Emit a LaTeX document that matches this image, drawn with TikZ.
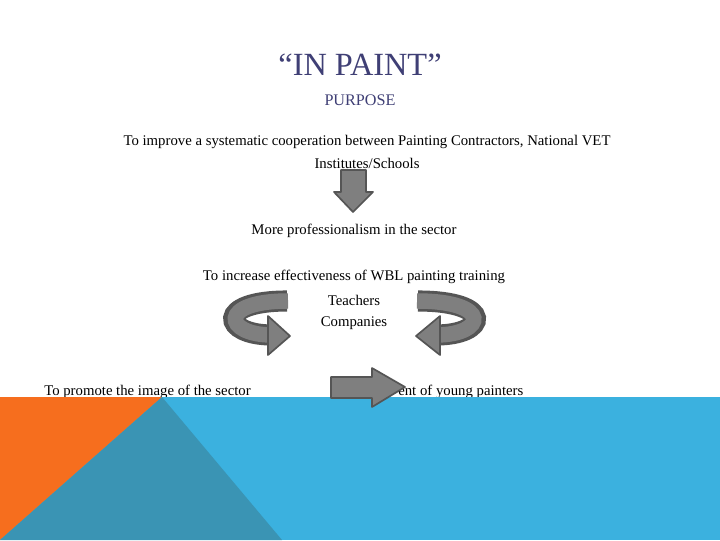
\documentclass[tikz,border=0pt]{standalone}
\usepackage{fontspec}
\setmainfont{Liberation Serif}
\begin{document}
\begin{tikzpicture}[x=0.025cm,y=-0.025cm,
  txt/.style={font=\fontsize{10.5}{12}\selectfont, inner sep=0pt},
  ttl/.style={text=titleblue, inner sep=0pt},
  arr/.style={fill=agray, draw=adark, line width=1.2pt, line join=round}]
\definecolor{titleblue}{HTML}{3F3F75}
\definecolor{agray}{HTML}{7F7F7F}
\definecolor{adark}{HTML}{555555}
\definecolor{orng}{HTML}{F66E1E}
\definecolor{teal}{HTML}{3A94B4}
\definecolor{sky}{HTML}{3BB1DF}
\useasboundingbox (0,0) rectangle (720,540);
\fill[white] (0,0) rectangle (720,540);
\node[ttl, font=\fontsize{23}{26}\selectfont] (title) at (360,65) {“IN PAINT”};
\node[ttl, font=\fontsize{11.5}{13}\selectfont] (purp) at (360,100) {PURPOSE};
\node[txt, align=center] (imp) at (367,152) {To improve a systematic cooperation between Painting Contractors, National VET\\[4pt]Institutes/Schools};
\node[txt] (more) at (354,231) {More professionalism in the sector};
\node[txt] (incr) at (354,277) {To increase effectiveness of WBL painting training};
\node[txt] (teach) at (354,300) {Teachers};
\node[txt] (comp) at (354,323) {Companies};
\node[txt, anchor=west] (prom) at (44,392) {To promote the image of the sector};
\node[txt, anchor=west] (dev) at (398,392) {ent of young painters};
% down arrow
\draw[arr] (341,170) -- (366,170) -- (366,192) -- (373,192) -- (353,212) -- (334,192) -- (341,192) -- cycle;
% left curved arrow
\draw[adark, line width=15pt] (287,301) .. controls (215,301) and (222,335) .. (272,335);
\draw[agray, line width=11pt] (288,301) .. controls (217,301) and (224,335) .. (272,335);
\draw[arr] (268,316) -- (290,336) -- (268,355) -- cycle;
% right curved arrow
\draw[adark, line width=15pt] (418,301) .. controls (495,301) and (488,335) .. (436,335);
\draw[agray, line width=11pt] (417,301) .. controls (493,301) and (486,335) .. (436,335);
\draw[arr] (440,316) -- (416,336) -- (440,355) -- cycle;
% bottom band
\fill[sky] (0,397) rectangle (720,540);
\fill[orng] (0,397) -- (162,397) -- (0,540) -- cycle;
\fill[teal] (162,397) -- (282,540) -- (0,540) -- cycle;
% right block arrow
\draw[arr] (331,377) -- (372,377) -- (372,368) -- (405,387) -- (372,407) -- (372,398) -- (331,398) -- cycle;
\end{tikzpicture}
\end{document}
